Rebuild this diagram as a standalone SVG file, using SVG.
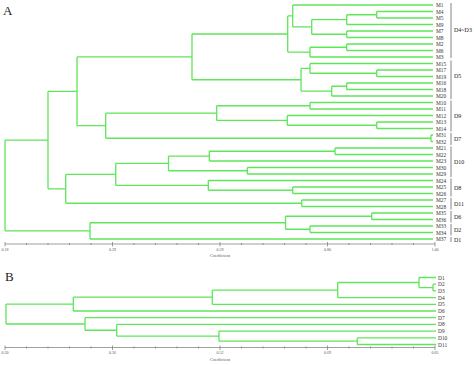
<svg xmlns="http://www.w3.org/2000/svg" width="474" height="365" viewBox="0 0 474 365">
<style>
.t{fill:none;stroke:#5fe65a;stroke-width:1.3}
.ax{fill:none;stroke:#777;stroke-width:0.7}
.br{fill:none;stroke:#666;stroke-width:0.8}
.lf{font-family:"Liberation Serif",serif;font-size:5.4px;fill:#333}
.gl{font-family:"Liberation Serif",serif;font-size:6px;fill:#222}
.tk{font-family:"Liberation Serif",serif;font-size:4px;fill:#555;text-anchor:middle}
.pl{font-family:"Liberation Serif",serif;font-size:13px;fill:#222}
</style>
<rect width="474" height="365" fill="#fff"/>
<text class="pl" x="3" y="15">A</text>
<text class="pl" x="5" y="281">B</text>

<g id="connectors-A">
<path class="t" d="M5 140.05V230.9M5 140.05H48M5 230.9H90"/>
<path class="t" d="M48 91.3V188.8M48 91.3H77M48 188.8H65.7"/>
<path class="t" d="M77 56.9V125.7M77 56.9H192M77 125.7H105.7"/>
<path class="t" d="M192 34V79.75M192 34H287.7M192 79.75H301"/>
<path class="t" d="M287.7 15.95V52.1M287.7 15.95H292.7M287.7 52.1H310"/>
<path class="t" d="M292.7 5V26.9M292.7 5H433M292.7 26.9H311.7"/>
<path class="t" d="M311.7 19.6V34.25M311.7 19.6H346.7M311.7 34.25H346.7"/>
<path class="t" d="M346.7 14.75V24.5M346.7 14.75H376.7M346.7 24.5H433"/>
<path class="t" d="M376.7 11.5V18M376.7 11.5H433M376.7 18H433"/>
<path class="t" d="M346.7 31V37.5M346.7 31H433M346.7 37.5H433"/>
<path class="t" d="M310 47.25V57M310 47.25H346.7M310 57H433"/>
<path class="t" d="M346.7 44V50.5M346.7 44H433M346.7 50.5H433"/>
<path class="t" d="M301 68.4V91.1M301 68.4H310M301 91.1H331.7"/>
<path class="t" d="M310 63.5V73.25M310 63.5H433M310 73.25H376.7"/>
<path class="t" d="M376.7 70V76.5M376.7 70H433M376.7 76.5H433"/>
<path class="t" d="M331.7 86.25V96M331.7 86.25H346.7M331.7 96H433"/>
<path class="t" d="M346.7 83V89.5M346.7 83H433M346.7 89.5H433"/>
<path class="t" d="M105.7 113.1V138.25M105.7 113.1H216.7M105.7 138.25H431"/>
<path class="t" d="M431 135V141.5M431 135H433M431 141.5H433"/>
<path class="t" d="M216.7 105.75V120.4M216.7 105.75H310M216.7 120.4H287.3"/>
<path class="t" d="M310 102.5V109M310 102.5H433M310 109H433"/>
<path class="t" d="M287.3 115.5V125.25M287.3 115.5H433M287.3 125.25H376.7"/>
<path class="t" d="M376.7 122V128.5M376.7 122H433M376.7 128.5H433"/>
<path class="t" d="M65.7 174.4V203.25M65.7 174.4H115.7M65.7 203.25H301.7"/>
<path class="t" d="M301.7 200V206.5M301.7 200H433M301.7 206.5H433"/>
<path class="t" d="M115.7 163.4V185.4M115.7 163.4H168.5M115.7 185.4H208.3"/>
<path class="t" d="M168.5 156.1V170.75M168.5 156.1H209.3M168.5 170.75H247.3"/>
<path class="t" d="M209.3 151.25V161M209.3 151.25H335M209.3 161H433"/>
<path class="t" d="M335 148V154.5M335 148H433M335 154.5H433"/>
<path class="t" d="M247.3 167.5V174M247.3 167.5H433M247.3 174H433"/>
<path class="t" d="M208.3 180.5V190.25M208.3 180.5H433M208.3 190.25H292.7"/>
<path class="t" d="M292.7 187V193.5M292.7 187H433M292.7 193.5H433"/>
<path class="t" d="M90 222.75V239M90 222.75H285.5M90 239H433"/>
<path class="t" d="M285.5 216.25V229.25M285.5 216.25H371.7M285.5 229.25H310"/>
<path class="t" d="M371.7 213V219.5M371.7 213H433M371.7 219.5H433"/>
<path class="t" d="M310 226V232.5M310 226H433M310 232.5H433"/>
</g>

<g id="axis-A">
<path class="ax" d="M5 244H435M5 242V246.5M112.5 242V246.5M220 242V246.5M327.5 242V246.5M435 242V246.5M26.5 243V245M48 243V245M69.5 243V245M91 243V245M134 243V245M155.5 243V245M177 243V245M198.5 243V245M241.5 243V245M263 243V245M284.5 243V245M306 243V245M349 243V245M370.5 243V245M392 243V245M413.5 243V245"/>
<text class="tk" x="5" y="250.5">0.18</text>
<text class="tk" x="112.5" y="250.5">0.39</text>
<text class="tk" x="220" y="250.5">0.59</text>
<text class="tk" x="327.5" y="250.5">0.80</text>
<text class="tk" x="435" y="250.5">1.00</text>
<text class="tk" x="220" y="257" style="font-size:4.5px">Coefficient</text>
</g>

<g id="leaves-A">
<text id="M1" class="lf" x="436" y="7">M1</text>
<text id="M4" class="lf" x="436" y="13.5">M4</text>
<text id="M5" class="lf" x="436" y="20">M5</text>
<text id="M9" class="lf" x="436" y="26.5">M9</text>
<text id="M7" class="lf" x="436" y="33">M7</text>
<text id="M8" class="lf" x="436" y="39.5">M8</text>
<text id="M2" class="lf" x="436" y="46">M2</text>
<text id="M6" class="lf" x="436" y="52.5">M6</text>
<text id="M3" class="lf" x="436" y="59">M3</text>
<text id="M15" class="lf" x="436" y="65.5">M15</text>
<text id="M17" class="lf" x="436" y="72">M17</text>
<text id="M19" class="lf" x="436" y="78.5">M19</text>
<text id="M16" class="lf" x="436" y="85">M16</text>
<text id="M18" class="lf" x="436" y="91.5">M18</text>
<text id="M20" class="lf" x="436" y="98">M20</text>
<text id="M10" class="lf" x="436" y="104.5">M10</text>
<text id="M11" class="lf" x="436" y="111">M11</text>
<text id="M12" class="lf" x="436" y="117.5">M12</text>
<text id="M13" class="lf" x="436" y="124">M13</text>
<text id="M14" class="lf" x="436" y="130.5">M14</text>
<text id="M31" class="lf" x="436" y="137">M31</text>
<text id="M32" class="lf" x="436" y="143.5">M32</text>
<text id="M21" class="lf" x="436" y="150">M21</text>
<text id="M22" class="lf" x="436" y="156.5">M22</text>
<text id="M23" class="lf" x="436" y="163">M23</text>
<text id="M30" class="lf" x="436" y="169.5">M30</text>
<text id="M29" class="lf" x="436" y="176">M29</text>
<text id="M24" class="lf" x="436" y="182.5">M24</text>
<text id="M25" class="lf" x="436" y="189">M25</text>
<text id="M26" class="lf" x="436" y="195.5">M26</text>
<text id="M27" class="lf" x="436" y="202">M27</text>
<text id="M28" class="lf" x="436" y="208.5">M28</text>
<text id="M35" class="lf" x="436" y="215">M35</text>
<text id="M36" class="lf" x="436" y="221.5">M36</text>
<text id="M33" class="lf" x="436" y="228">M33</text>
<text id="M34" class="lf" x="436" y="234.5">M34</text>
<text id="M37" class="lf" x="436" y="241">M37</text>
</g>

<g id="groups-A">
<path class="br" d="M451 3V58M451 60.5V99M451 100.5V131.5M451 133V145M451 146.5V177M451 178.5V196.5M451 198V209.5M451 211V222.5M451 224V235.5M451 237V242"/>
<text class="gl" x="454" y="32">D4~D3</text>
<text class="gl" x="454" y="78">D5</text>
<text class="gl" x="454" y="118">D9</text>
<text class="gl" x="454" y="141">D7</text>
<text class="gl" x="454" y="164">D10</text>
<text class="gl" x="454" y="189.5">D8</text>
<text class="gl" x="454" y="206">D11</text>
<text class="gl" x="454" y="219">D6</text>
<text class="gl" x="454" y="232">D2</text>
<text class="gl" x="454" y="242">D1</text>
</g>

<g id="connectors-B">
<path class="t" d="M6 304.1V324M6 304.1H73.3M6 324H85"/>
<path class="t" d="M73.3 297.2V311M73.3 297.2H212.3M73.3 311H436"/>
<path class="t" d="M212.3 290.05V304.3M212.3 290.05H337.7M212.3 304.3H436"/>
<path class="t" d="M337.7 282.5V297.6M337.7 282.5H419M337.7 297.6H436"/>
<path class="t" d="M419 277.5V287.55M419 277.5H436M419 287.55H433"/>
<path class="t" d="M433 284.2V290.9M433 284.2H436M433 290.9H436"/>
<path class="t" d="M85 317.7V330.25M85 317.7H436M85 330.25H116.7"/>
<path class="t" d="M116.7 324.4V336.1M116.7 324.4H436M116.7 336.1H219"/>
<path class="t" d="M219 331.1V341.15M219 331.1H436M219 341.15H357.3"/>
<path class="t" d="M357.3 337.8V344.5M357.3 337.8H436M357.3 344.5H436"/>
</g>

<g id="axis-B">
<path class="ax" d="M5 347.5H435M5 345.5V350M112.5 345.5V350M220 345.5V350M327.5 345.5V350M435 345.5V350M26.5 346.5V348.5M48 346.5V348.5M69.5 346.5V348.5M91 346.5V348.5M134 346.5V348.5M155.5 346.5V348.5M177 346.5V348.5M198.5 346.5V348.5M241.5 346.5V348.5M263 346.5V348.5M284.5 346.5V348.5M306 346.5V348.5M349 346.5V348.5M370.5 346.5V348.5M392 346.5V348.5M413.5 346.5V348.5"/>
<text class="tk" x="5" y="354">0.20</text>
<text class="tk" x="112.5" y="354">0.36</text>
<text class="tk" x="220" y="354">0.52</text>
<text class="tk" x="327.5" y="354">0.69</text>
<text class="tk" x="435" y="354">0.85</text>
<text class="tk" x="220" y="361" style="font-size:4.5px">Coefficient</text>
</g>

<g id="leaves-B">
<text id="D1" class="lf" x="438" y="279.5">D1</text>
<text id="D2" class="lf" x="438" y="286.2">D2</text>
<text id="D3" class="lf" x="438" y="292.9">D3</text>
<text id="D4" class="lf" x="438" y="299.6">D4</text>
<text id="D5" class="lf" x="438" y="306.3">D5</text>
<text id="D6" class="lf" x="438" y="313">D6</text>
<text id="D7" class="lf" x="438" y="319.7">D7</text>
<text id="D8" class="lf" x="438" y="326.4">D8</text>
<text id="D9" class="lf" x="438" y="333.1">D9</text>
<text id="D10" class="lf" x="438" y="339.8">D10</text>
<text id="D11" class="lf" x="438" y="346.5">D11</text>
</g>
</svg>
